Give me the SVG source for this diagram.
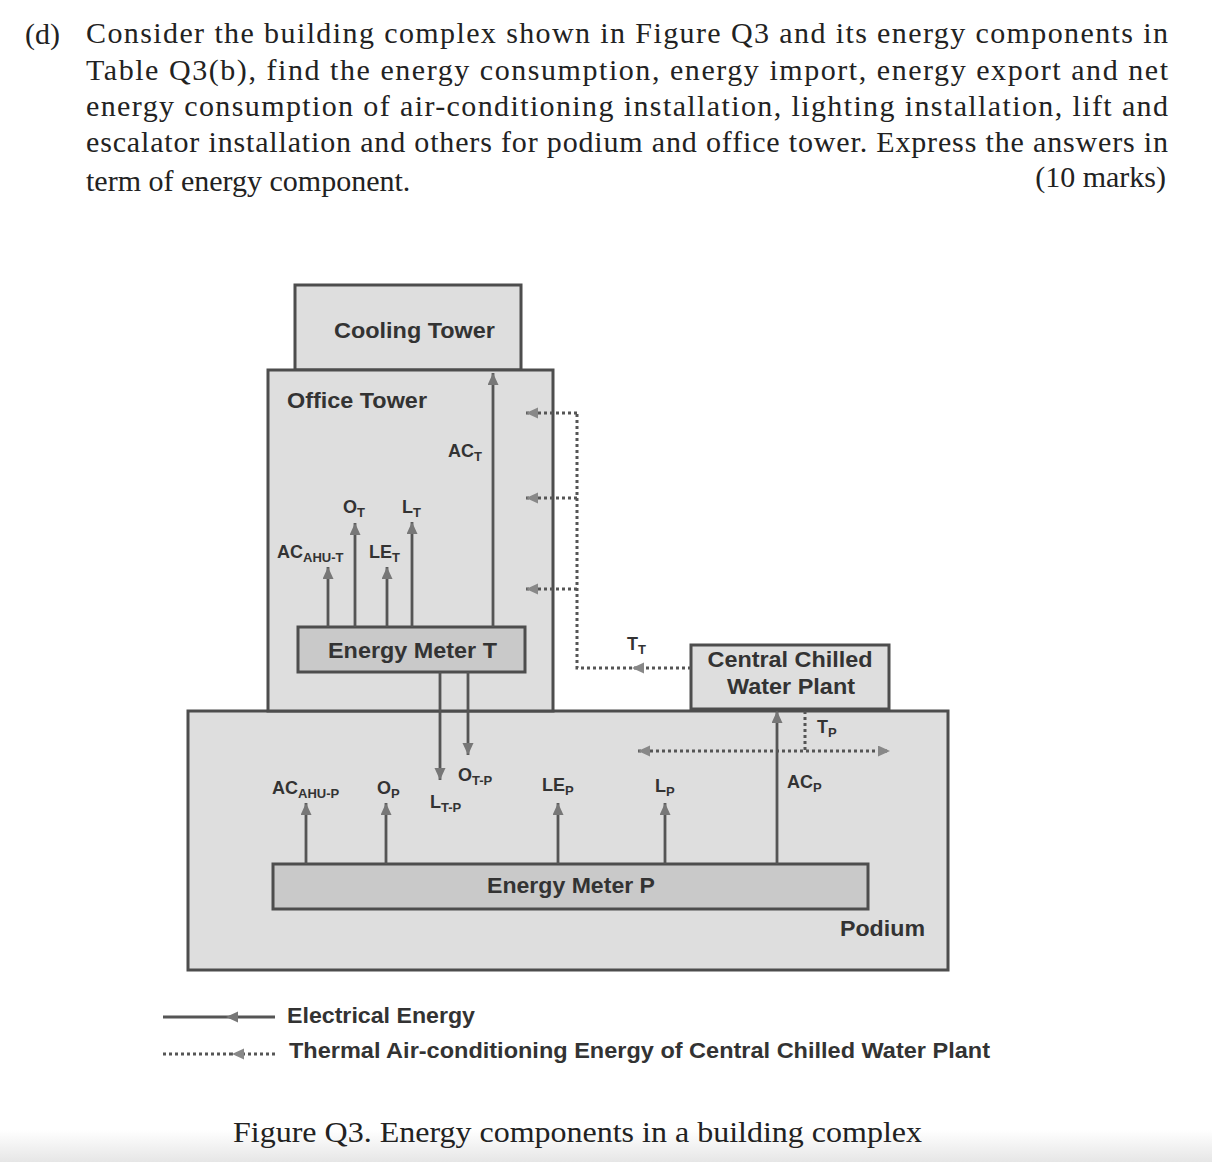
<svg xmlns="http://www.w3.org/2000/svg" width="1212" height="1162" viewBox="0 0 1212 1162">
<defs>
<style>
.serif{font-family:"Liberation Serif","Times New Roman",serif;font-size:30px;fill:#222}
.lbl{font-family:"Liberation Sans",Arial,sans-serif;font-weight:bold;fill:#333}
.big{font-size:22px}
.sm{font-size:18px}
.sub{font-size:13px}
.box{fill:#dedede;stroke:#4d4d4d;stroke-width:3}
.meter{fill:#c9c9c9;stroke:#4d4d4d;stroke-width:3}
.el{stroke:#555;stroke-width:2.8;fill:none}
.th{stroke:#555;stroke-width:3;stroke-dasharray:3 3;fill:none}
</style>
<marker id="ea" markerUnits="userSpaceOnUse" markerWidth="13" markerHeight="12" refX="12" refY="5.5" orient="auto">
<path d="M0,0 L12,5.5 L0,11 z" fill="#777"/>
</marker>
<marker id="ta" markerUnits="userSpaceOnUse" markerWidth="13" markerHeight="12" refX="12" refY="5.5" orient="auto-start-reverse">
<path d="M0,0 L12,5.5 L0,11 z" fill="#888"/>
</marker>
<linearGradient id="shade" x1="0" y1="0" x2="0" y2="1">
<stop offset="0" stop-color="#fff"/>
<stop offset="1" stop-color="#e6e6e6"/>
</linearGradient>
</defs>
<rect width="1212" height="1162" fill="#fff"/>
<rect x="0" y="1130" width="1212" height="32" fill="url(#shade)"/>

<g id="question">
<text class="serif" x="25" y="44">(d)</text>
<text class="serif" x="86" y="43" textLength="1082" lengthAdjust="spacing">Consider the building complex shown in Figure Q3 and its energy components in</text>
<text class="serif" x="86" y="80" textLength="1082" lengthAdjust="spacing">Table Q3(b), find the energy consumption, energy import, energy export and net</text>
<text class="serif" x="86" y="116" textLength="1082" lengthAdjust="spacing">energy consumption of air-conditioning installation, lighting installation, lift and</text>
<text class="serif" x="86" y="152" textLength="1082" lengthAdjust="spacing">escalator installation and others for podium and office tower. Express the answers in</text>
<text class="serif" x="86" y="191">term of energy component.</text>
<text class="serif" x="1166" y="187" text-anchor="end">(10 marks)</text>
</g>

<g id="cooling-tower">
<rect class="box" x="295" y="285" width="226" height="85"/>
<text class="lbl big" x="334" y="338" textLength="161" lengthAdjust="spacingAndGlyphs">Cooling Tower</text>
</g>

<g id="podium">
<rect class="box" x="188" y="711" width="760" height="259"/>
<text class="lbl big" x="840" y="936" textLength="85" lengthAdjust="spacingAndGlyphs">Podium</text>
</g>

<g id="office-tower">
<rect class="box" x="268" y="370" width="285" height="341"/>
<text class="lbl big" x="287" y="408" textLength="140" lengthAdjust="spacingAndGlyphs">Office Tower</text>
</g>

<g id="central-chilled-water-plant">
<rect class="box" x="691" y="645" width="198" height="64"/>
<text class="lbl big" x="790" y="667" text-anchor="middle" textLength="165" lengthAdjust="spacingAndGlyphs">Central Chilled</text>
<text class="lbl big" x="791" y="694" text-anchor="middle" textLength="128" lengthAdjust="spacingAndGlyphs">Water Plant</text>
</g>

<g id="energy-meter-t">
<rect class="meter" x="298" y="627" width="227" height="45"/>
<text class="lbl big" x="328" y="658" textLength="169" lengthAdjust="spacingAndGlyphs">Energy Meter T</text>
</g>

<g id="energy-meter-p">
<rect class="meter" x="273" y="864" width="595" height="45"/>
<text class="lbl big" x="487" y="893" textLength="168" lengthAdjust="spacingAndGlyphs">Energy Meter P</text>
</g>

<g id="connectors">
<line class="el" x1="328" y1="627" x2="328" y2="567" marker-end="url(#ea)"/>
<line class="el" x1="355" y1="627" x2="355" y2="523" marker-end="url(#ea)"/>
<line class="el" x1="387" y1="627" x2="387" y2="567" marker-end="url(#ea)"/>
<line class="el" x1="412" y1="627" x2="412" y2="522" marker-end="url(#ea)"/>
<line class="el" x1="493" y1="627" x2="493" y2="373" marker-end="url(#ea)"/>
<line class="el" x1="440" y1="672" x2="440" y2="780" marker-end="url(#ea)"/>
<line class="el" x1="468" y1="672" x2="468" y2="755" marker-end="url(#ea)"/>
<line class="el" x1="306" y1="864" x2="306" y2="803" marker-end="url(#ea)"/>
<line class="el" x1="386" y1="864" x2="386" y2="803" marker-end="url(#ea)"/>
<line class="el" x1="558" y1="864" x2="558" y2="803" marker-end="url(#ea)"/>
<line class="el" x1="665" y1="864" x2="665" y2="803" marker-end="url(#ea)"/>
<line class="el" x1="777" y1="864" x2="777" y2="711" marker-end="url(#ea)"/>
<polyline class="th" points="632,668 577,668 577,413"/>
<line class="th" x1="691" y1="668" x2="632" y2="668" marker-end="url(#ta)"/>
<line class="th" x1="577" y1="413" x2="526" y2="413" marker-end="url(#ta)"/>
<line class="th" x1="577" y1="498" x2="526" y2="498" marker-end="url(#ta)"/>
<line class="th" x1="577" y1="589" x2="526" y2="589" marker-end="url(#ta)"/>
<line class="th" x1="805" y1="711" x2="805" y2="750"/>
<line class="th" x1="638" y1="751" x2="890" y2="751" marker-start="url(#ta)" marker-end="url(#ta)"/>
</g>

<g id="labels" class="lbl sm">
<text x="448" y="457">AC<tspan class="sub" dy="4">T</tspan></text>
<text x="343" y="513">O<tspan class="sub" dy="4">T</tspan></text>
<text x="402" y="513">L<tspan class="sub" dy="4">T</tspan></text>
<text x="277" y="558">AC<tspan class="sub" dy="4">AHU-T</tspan></text>
<text x="369" y="558">LE<tspan class="sub" dy="4">T</tspan></text>
<text x="627" y="650">T<tspan class="sub" dy="4">T</tspan></text>
<text x="817" y="733">T<tspan class="sub" dy="4">P</tspan></text>
<text x="458" y="781">O<tspan class="sub" dy="4">T-P</tspan></text>
<text x="430" y="808">L<tspan class="sub" dy="4">T-P</tspan></text>
<text x="272" y="794">AC<tspan class="sub" dy="4">AHU-P</tspan></text>
<text x="377" y="794">O<tspan class="sub" dy="4">P</tspan></text>
<text x="542" y="791">LE<tspan class="sub" dy="4">P</tspan></text>
<text x="655" y="792">L<tspan class="sub" dy="4">P</tspan></text>
<text x="787" y="788">AC<tspan class="sub" dy="4">P</tspan></text>
</g>

<g id="legend">
<line class="el" x1="275" y1="1017" x2="226" y2="1017" marker-end="url(#ea)"/>
<line class="el" x1="226" y1="1017" x2="163" y2="1017"/>
<line class="th" x1="275" y1="1054" x2="232" y2="1054" marker-end="url(#ta)"/>
<line class="th" x1="232" y1="1054" x2="163" y2="1054"/>
<text class="lbl big" x="287" y="1023" textLength="188" lengthAdjust="spacingAndGlyphs">Electrical Energy</text>
<text class="lbl big" x="289" y="1058" textLength="701" lengthAdjust="spacingAndGlyphs">Thermal Air-conditioning Energy of Central Chilled Water Plant</text>
</g>

<text id="caption" class="serif" x="233" y="1142" font-size="31" textLength="689" lengthAdjust="spacingAndGlyphs">Figure Q3. Energy components in a building complex</text>
</svg>
